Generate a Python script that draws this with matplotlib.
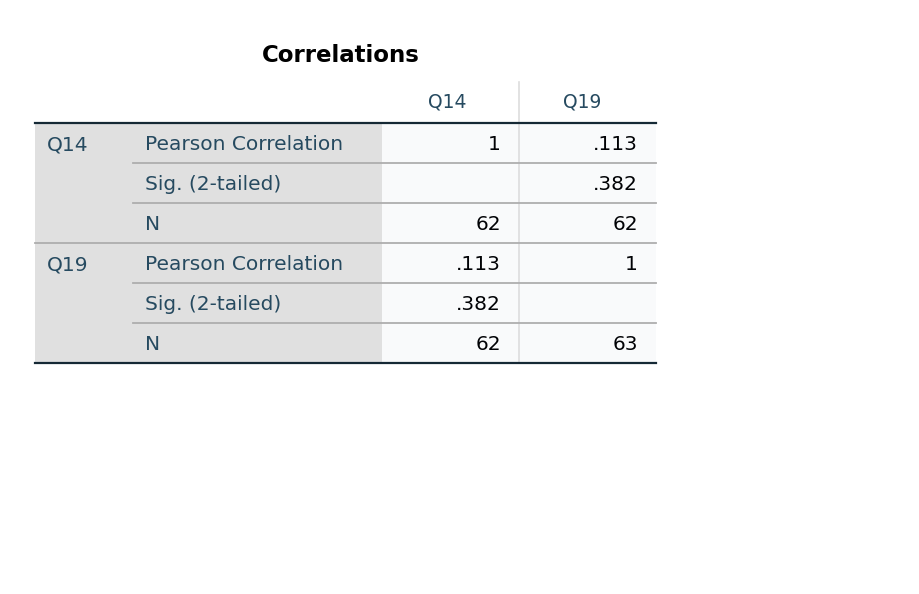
import matplotlib

matplotlib.use("Agg")
import matplotlib.pyplot as plt
from matplotlib.patches import Rectangle

# table content
title = "Correlations"
col_labels = ["Q14", "Q19"]
row_groups = ["Q14", "Q19"]
stat_labels = ["Pearson Correlation", "Sig. (2-tailed)", "N"]
q14_values = ["1", "", "62", ".113", ".382", "62"]
q19_values = [".113", ".382", "62", "1", "", "63"]

FONT = "DejaVu Sans"
LABEL_COLOR = "#264a60"
DATA_COLOR = "#010205"
RULE_COLOR = "#152935"
GRID_COLOR = "#aeaeae"

fig = plt.figure(figsize=(9.2, 5.94), dpi=100)
ax = fig.add_axes([0, 0, 1, 1])
ax.set_xlim(0, 920)
ax.set_ylim(594, 0)
ax.axis("off")

# column edges (pixels)
x_left, x_sub, x_data, x_mid, x_right = 35, 133, 382, 519, 656
y_top, row_h = 123, 40
n_rows = len(row_groups) * len(stat_labels)
y_bot = y_top + n_rows * row_h

# backgrounds
ax.add_patch(Rectangle((x_left, y_top), x_data - x_left, y_bot - y_top, color="#e0e0e0", lw=0))
ax.add_patch(Rectangle((x_data, y_top), x_right - x_data, y_bot - y_top, color="#f9fafb", lw=0))

ax.text(341, 55, title, ha="center", va="center",
        fontsize=16.5, fontweight="bold", family=FONT, color="black")

for j, lab in enumerate(col_labels):
    cx = (x_data + x_mid) / 2 - 3 if j == 0 else (x_mid + x_right) / 2 - 5
    ax.text(cx, 102, lab, ha="center", va="center", fontsize=13.5, family=FONT, color=LABEL_COLOR)

ax.plot([x_mid, x_mid], [82, y_bot], color="#dddddd", lw=1.2)

for r in range(n_rows):
    yc = y_top + r * row_h + row_h / 2 + 2
    g, s = divmod(r, len(stat_labels))
    if s == 0:
        ax.text(x_left + 12, yc, row_groups[g], ha="left", va="center",
                fontsize=14.5, family=FONT, color=LABEL_COLOR)
    ax.text(x_sub + 12, yc, stat_labels[s], ha="left", va="center",
            fontsize=14.5, family=FONT, color=LABEL_COLOR)
    ax.text(x_mid - 18, yc, q14_values[r], ha="right", va="center",
            fontsize=14.5, family=FONT, color=DATA_COLOR)
    ax.text(x_right - 18, yc, q19_values[r], ha="right", va="center",
            fontsize=14.5, family=FONT, color=DATA_COLOR)
    if r > 0:
        y = y_top + r * row_h
        x0 = x_left if s == 0 else x_sub
        ax.plot([x0, x_right], [y, y], color=GRID_COLOR, lw=1.3)

ax.plot([x_left, x_right], [y_top, y_top], color=RULE_COLOR, lw=1.6)
ax.plot([x_left, x_right], [y_bot, y_bot], color=RULE_COLOR, lw=1.6)

fig.savefig("out.png", dpi=100)
